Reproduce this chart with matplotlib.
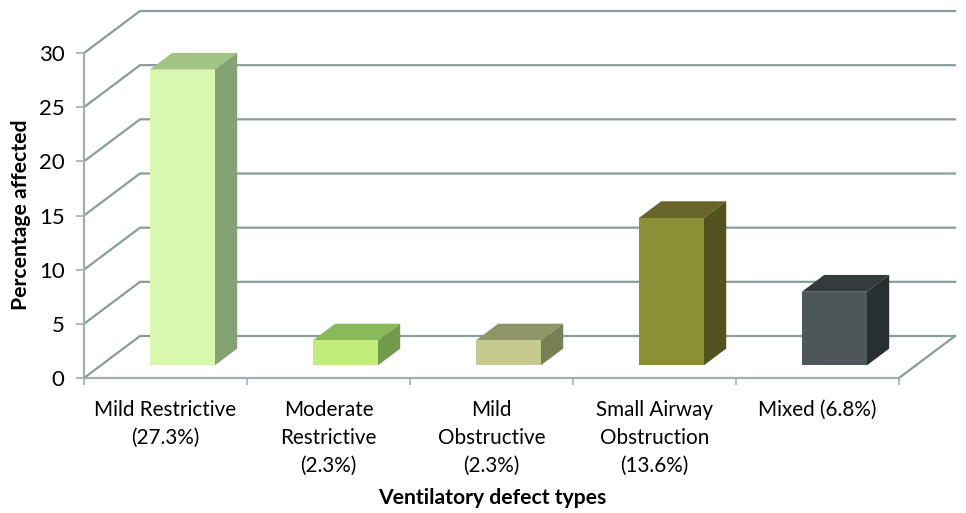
import matplotlib
matplotlib.use('Agg')
import matplotlib.pyplot as plt
from matplotlib.patches import Polygon

categories = ['Mild Restrictive\n(27.3%)', 'Moderate\nRestrictive\n(2.3%)', 'Mild\nObstructive\n(2.3%)',
              'Small Airway\nObstruction\n(13.6%)', 'Mixed (6.8%)']
values = [27.3, 2.3, 2.3, 13.6, 6.8]
front_colors = ['#d8f8ad', '#c3ed7b', '#c6ca8e', '#8c8f35', '#4d5659']
top_colors = ['#a2c585', '#88b95a', '#8e9667', '#67652a', '#333b3c']
side_colors = ['#85a272', '#729a4b', '#777f55', '#52521e', '#282f30']
y_ticks = [0, 5, 10, 15, 20, 25, 30]

W, H = 966, 513
AX_L, AX_R, AX_T, AX_B = 84, 899, 53, 378
GRID = '#8b9c9c'
AXIS = '#a4aeae'

plt.rcParams['font.family'] = ['Lato', 'DejaVu Sans']

fig = plt.figure(figsize=(W / 100, H / 100), dpi=100)
ax = fig.add_axes([AX_L / W, 1 - AX_B / H, (AX_R - AX_L) / W, (AX_B - AX_T) / H])
ax.set_xlim(0, len(values))
ax.set_ylim(0, 30)

# depth of the fake 3d box, in data units
depth_x = 56 / ((AX_R - AX_L) / len(values))
depth_y = 42 / ((AX_B - AX_T) / 30)


def proj(x, y, z):
    return (x + z * depth_x, y + z * depth_y)


# walls
for v in y_ticks:
    xs, ys = zip(proj(0, v, 0), proj(0, v, 1), proj(len(values), v, 1))
    ax.plot(xs, ys, color=GRID, lw=1.6, clip_on=False, zorder=1, solid_joinstyle='miter')
xs, ys = zip(proj(len(values), 0, 0), proj(len(values), 0, 1))
ax.plot(xs, ys, color=GRID, lw=1.6, clip_on=False, zorder=1)

# bars
bar_w = 65 / ((AX_R - AX_L) / len(values))
z0, z1 = 0.3, 0.7
for i, v in enumerate(values):
    x0 = i + 0.5 - bar_w / 2
    x1 = x0 + bar_w
    ax.add_patch(Polygon([proj(x0, v, z0), proj(x1, v, z0), proj(x1, v, z1), proj(x0, v, z1)],
                         fc=top_colors[i], ec='none', clip_on=False, zorder=3))
    ax.add_patch(Polygon([proj(x1, 0, z0), proj(x1, 0, z1), proj(x1, v, z1), proj(x1, v, z0)],
                         fc=side_colors[i], ec='none', clip_on=False, zorder=3))
    ax.add_patch(Polygon([proj(x0, 0, z0), proj(x1, 0, z0), proj(x1, v, z0), proj(x0, v, z0)],
                         fc=front_colors[i], ec='none', clip_on=False, zorder=4))

for s in ['top', 'right']:
    ax.spines[s].set_visible(False)
for s in ['left', 'bottom']:
    ax.spines[s].set_color(AXIS)
    ax.spines[s].set_linewidth(1.6)
ax.patch.set_visible(False)

ax.set_yticks(y_ticks)
ax.tick_params(axis='y', length=6, width=1.2, color=AXIS, labelsize=16, pad=8)
ax.set_xticks(range(len(values) + 1))
ax.set_xticklabels([])
ax.tick_params(axis='x', which='major', length=5, width=1.2, color=AXIS)
ax.set_xticks([i + 0.5 for i in range(len(values))], minor=True)
ax.set_xticklabels(categories, minor=True, fontsize=14.9, linespacing=1.5)
ax.tick_params(axis='x', which='minor', length=0, pad=16)

ax.set_ylabel('Percentage affected', fontsize=15.2, fontweight='bold', va='center')
ax.yaxis.set_label_coords((21 - AX_L) / (AX_R - AX_L), (AX_B - 215) / (AX_B - AX_T))
ax.set_xlabel('Ventilatory defect types', fontsize=15.2, fontweight='bold', va='center')
ax.xaxis.set_label_coords((492 - AX_L) / (AX_R - AX_L), (AX_B - 498) / (AX_B - AX_T))

fig.savefig('out.png', dpi=100)
